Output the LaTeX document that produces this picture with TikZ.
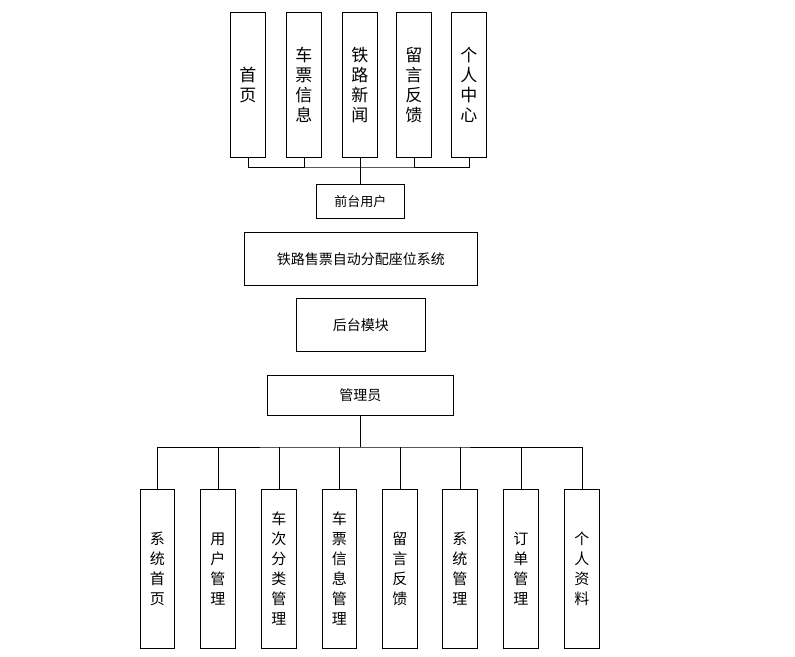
\documentclass[tikz,border=0pt]{standalone}
\usepackage{fontspec}
\newfontfamily\cjk{Noto Sans CJK SC}
\begin{document}
\begin{tikzpicture}[x=1pt,y=-1pt,
  bx/.style={draw=black,line width=0.8pt,fill=white,inner sep=0pt,font=\cjk},
  ln/.style={draw=black,line width=0.8pt}]
\useasboundingbox (0,0) rectangle (795,656);
\newcommand\vb[6]{\node[bx,minimum width=#3,minimum height=#4,anchor=north west,font=\cjk\fontsize{#5}{#5}\selectfont,align=center] (#1) at #2 {#6};}
% top boxes
\vb{t1}{(230,12)}{35}{145}{17}{首\\[3pt]页}
\vb{t2}{(286,12)}{35}{145}{17}{车\\[3pt]票\\[3pt]信\\[3pt]息}
\vb{t3}{(342,12)}{35}{145}{17}{铁\\[3pt]路\\[3pt]新\\[3pt]闻}
\vb{t4}{(396,12)}{35}{145}{17}{留\\[3pt]言\\[3pt]反\\[3pt]馈}
\vb{t5}{(451,12)}{35}{145}{17}{个\\[3pt]人\\[3pt]中\\[3pt]心}
\vb{f}{(316,184)}{88}{34}{13}{前台用户}
\vb{s}{(244,232)}{233}{53}{14}{铁路售票自动分配座位系统}
\vb{h}{(296,298)}{129}{53}{14}{后台模块}
\vb{g}{(267,375)}{186}{40}{14}{管理员}
\coordinate (tb) at (t3.south |- 0,167);
\draw[ln] (t1.south) |- (tb) -| (t5.south);
\foreach \i in {2,4} \draw[ln] (t\i.south) -- (t\i.south |- tb);
\draw[ln] (t3.south) -- (t3.south |- f.north);
% bottom
\vb{b1}{(140,489)}{34}{159}{15}{系\\[5pt]统\\[5pt]首\\[5pt]页}
\vb{b2}{(200,489)}{35}{159}{15}{用\\[5pt]户\\[5pt]管\\[5pt]理}
\vb{b3}{(261,489)}{35}{159}{15}{车\\[5pt]次\\[5pt]分\\[5pt]类\\[5pt]管\\[5pt]理}
\vb{b4}{(322,489)}{34}{159}{15}{车\\[5pt]票\\[5pt]信\\[5pt]息\\[5pt]管\\[5pt]理}
\vb{b5}{(382,489)}{35}{159}{15}{留\\[5pt]言\\[5pt]反\\[5pt]馈}
\vb{b6}{(442,489)}{35}{159}{15}{系\\[5pt]统\\[5pt]管\\[5pt]理}
\vb{b7}{(503,489)}{35}{159}{15}{订\\[5pt]单\\[5pt]管\\[5pt]理}
\vb{b8}{(564,489)}{35}{159}{15}{个\\[5pt]人\\[5pt]资\\[5pt]料}
\coordinate (bb) at (g.south |- 0,447);
\draw[ln] (g.south) -- (bb);
\draw[ln] (b1.north) |- (bb) -| (b8.north);
\foreach \i in {2,...,7} \draw[ln] (b\i.north) -- (b\i.north |- bb);
\end{tikzpicture}
\end{document}
